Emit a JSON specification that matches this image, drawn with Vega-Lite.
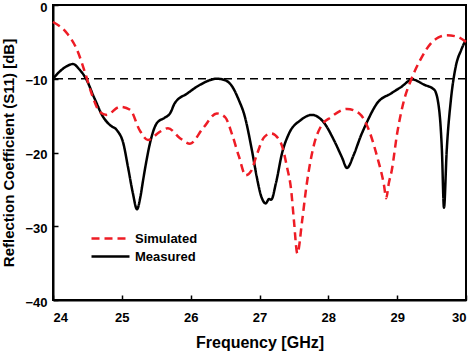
{
  "$schema": "https://vega.github.io/schema/vega-lite/v6.json",
  "width": 413,
  "height": 295,
  "autosize": "none",
  "padding": {"left": 53, "top": 5, "right": 8, "bottom": 52},
  "config": {
    "font": "Liberation Sans",
    "view": {"stroke": "black", "strokeWidth": 2},
    "axis": {
      "grid": false,
      "domainColor": "black",
      "domainWidth": 2,
      "tickColor": "black",
      "tickWidth": 1.5,
      "labelFont": "Liberation Sans",
      "labelFontWeight": "bold",
      "labelFontSize": 13,
      "labelColor": "black",
      "titleFont": "Liberation Sans",
      "titleFontWeight": "bold",
      "titleFontSize": 15,
      "titleColor": "black"
    }
  },
  "datasets": {
    "threshold": [{"level": -10}],
    "curves": [
      {"f": 24.0, "s": -10.0, "series": "Measured"},
      {"f": 24.1, "s": -9.0, "series": "Measured"},
      {"f": 24.2, "s": -8.3, "series": "Measured"},
      {"f": 24.29, "s": -8.0, "series": "Measured"},
      {"f": 24.38, "s": -8.7, "series": "Measured"},
      {"f": 24.48, "s": -10.0, "series": "Measured"},
      {"f": 24.6, "s": -12.6, "series": "Measured"},
      {"f": 24.73, "s": -15.2, "series": "Measured"},
      {"f": 24.83, "s": -16.3, "series": "Measured"},
      {"f": 24.93, "s": -17.0, "series": "Measured"},
      {"f": 25.02, "s": -18.7, "series": "Measured"},
      {"f": 25.09, "s": -22.0, "series": "Measured"},
      {"f": 25.16, "s": -25.5, "series": "Measured"},
      {"f": 25.22, "s": -27.7, "series": "Measured"},
      {"f": 25.27, "s": -26.0, "series": "Measured"},
      {"f": 25.31, "s": -23.7, "series": "Measured"},
      {"f": 25.36, "s": -21.0, "series": "Measured"},
      {"f": 25.41, "s": -18.7, "series": "Measured"},
      {"f": 25.51, "s": -16.0, "series": "Measured"},
      {"f": 25.62, "s": -15.3, "series": "Measured"},
      {"f": 25.7, "s": -14.7, "series": "Measured"},
      {"f": 25.77, "s": -13.3, "series": "Measured"},
      {"f": 25.95, "s": -12.0, "series": "Measured"},
      {"f": 26.14, "s": -10.8, "series": "Measured"},
      {"f": 26.38, "s": -10.0, "series": "Measured"},
      {"f": 26.5, "s": -10.2, "series": "Measured"},
      {"f": 26.6, "s": -11.0, "series": "Measured"},
      {"f": 26.7, "s": -12.9, "series": "Measured"},
      {"f": 26.78, "s": -14.9, "series": "Measured"},
      {"f": 26.89, "s": -19.7, "series": "Measured"},
      {"f": 26.96, "s": -23.3, "series": "Measured"},
      {"f": 27.02, "s": -25.8, "series": "Measured"},
      {"f": 27.09, "s": -26.9, "series": "Measured"},
      {"f": 27.14, "s": -26.3, "series": "Measured"},
      {"f": 27.17, "s": -26.4, "series": "Measured"},
      {"f": 27.24, "s": -24.1, "series": "Measured"},
      {"f": 27.33, "s": -20.0, "series": "Measured"},
      {"f": 27.43, "s": -17.4, "series": "Measured"},
      {"f": 27.6, "s": -15.6, "series": "Measured"},
      {"f": 27.76, "s": -14.9, "series": "Measured"},
      {"f": 27.94, "s": -16.0, "series": "Measured"},
      {"f": 28.08, "s": -18.3, "series": "Measured"},
      {"f": 28.2, "s": -20.7, "series": "Measured"},
      {"f": 28.27, "s": -22.1, "series": "Measured"},
      {"f": 28.37, "s": -20.3, "series": "Measured"},
      {"f": 28.47, "s": -17.8, "series": "Measured"},
      {"f": 28.56, "s": -15.9, "series": "Measured"},
      {"f": 28.71, "s": -13.3, "series": "Measured"},
      {"f": 28.91, "s": -12.0, "series": "Measured"},
      {"f": 29.06, "s": -11.1, "series": "Measured"},
      {"f": 29.22, "s": -10.1, "series": "Measured"},
      {"f": 29.39, "s": -10.8, "series": "Measured"},
      {"f": 29.54, "s": -11.5, "series": "Measured"},
      {"f": 29.61, "s": -14.2, "series": "Measured"},
      {"f": 29.65, "s": -19.7, "series": "Measured"},
      {"f": 29.68, "s": -27.5, "series": "Measured"},
      {"f": 29.72, "s": -19.7, "series": "Measured"},
      {"f": 29.78, "s": -12.9, "series": "Measured"},
      {"f": 29.85, "s": -8.4, "series": "Measured"},
      {"f": 29.93, "s": -6.1, "series": "Measured"},
      {"f": 30.0, "s": -4.7, "series": "Measured"},
      {"f": 24.0, "s": -2.3, "series": "Simulated"},
      {"f": 24.2, "s": -3.8, "series": "Simulated"},
      {"f": 24.35, "s": -6.1, "series": "Simulated"},
      {"f": 24.47, "s": -9.3, "series": "Simulated"},
      {"f": 24.56, "s": -12.0, "series": "Simulated"},
      {"f": 24.68, "s": -14.5, "series": "Simulated"},
      {"f": 24.78, "s": -14.9, "series": "Simulated"},
      {"f": 24.97, "s": -13.8, "series": "Simulated"},
      {"f": 25.12, "s": -14.2, "series": "Simulated"},
      {"f": 25.26, "s": -17.0, "series": "Simulated"},
      {"f": 25.38, "s": -18.3, "series": "Simulated"},
      {"f": 25.55, "s": -17.2, "series": "Simulated"},
      {"f": 25.67, "s": -16.7, "series": "Simulated"},
      {"f": 25.85, "s": -18.1, "series": "Simulated"},
      {"f": 25.99, "s": -18.8, "series": "Simulated"},
      {"f": 26.18, "s": -16.7, "series": "Simulated"},
      {"f": 26.38, "s": -14.7, "series": "Simulated"},
      {"f": 26.5, "s": -15.2, "series": "Simulated"},
      {"f": 26.6, "s": -17.5, "series": "Simulated"},
      {"f": 26.7, "s": -20.5, "series": "Simulated"},
      {"f": 26.8, "s": -23.1, "series": "Simulated"},
      {"f": 26.88, "s": -22.5, "series": "Simulated"},
      {"f": 26.95, "s": -20.6, "series": "Simulated"},
      {"f": 27.07, "s": -17.9, "series": "Simulated"},
      {"f": 27.17, "s": -17.4, "series": "Simulated"},
      {"f": 27.31, "s": -18.7, "series": "Simulated"},
      {"f": 27.4, "s": -22.0, "series": "Simulated"},
      {"f": 27.46, "s": -25.1, "series": "Simulated"},
      {"f": 27.5, "s": -29.2, "series": "Simulated"},
      {"f": 27.55, "s": -33.7, "series": "Simulated"},
      {"f": 27.62, "s": -29.2, "series": "Simulated"},
      {"f": 27.68, "s": -24.7, "series": "Simulated"},
      {"f": 27.79, "s": -19.0, "series": "Simulated"},
      {"f": 27.89, "s": -16.5, "series": "Simulated"},
      {"f": 28.04, "s": -15.2, "series": "Simulated"},
      {"f": 28.27, "s": -14.1, "series": "Simulated"},
      {"f": 28.45, "s": -14.7, "series": "Simulated"},
      {"f": 28.56, "s": -16.3, "series": "Simulated"},
      {"f": 28.71, "s": -20.6, "series": "Simulated"},
      {"f": 28.81, "s": -24.5, "series": "Simulated"},
      {"f": 28.84, "s": -26.2, "series": "Simulated"},
      {"f": 28.88, "s": -24.1, "series": "Simulated"},
      {"f": 28.92, "s": -22.5, "series": "Simulated"},
      {"f": 29.0, "s": -17.4, "series": "Simulated"},
      {"f": 29.1, "s": -12.9, "series": "Simulated"},
      {"f": 29.2, "s": -10.2, "series": "Simulated"},
      {"f": 29.35, "s": -7.2, "series": "Simulated"},
      {"f": 29.49, "s": -5.2, "series": "Simulated"},
      {"f": 29.6, "s": -4.4, "series": "Simulated"},
      {"f": 29.72, "s": -4.1, "series": "Simulated"},
      {"f": 29.87, "s": -4.3, "series": "Simulated"},
      {"f": 30.0, "s": -5.0, "series": "Simulated"}
    ]
  },
  "layer": [
    {
      "data": {"name": "threshold"},
      "mark": {"type": "rule", "color": "black", "strokeWidth": 1.5, "strokeDash": [8, 5]},
      "encoding": {"y": {"field": "level", "type": "quantitative"}}
    },
    {
      "data": {"name": "curves"},
      "mark": {"type": "line", "strokeWidth": 2.5, "interpolate": "monotone"},
      "encoding": {
        "x": {
          "field": "f", "type": "quantitative",
          "scale": {"domain": [24, 30], "nice": false, "zero": false},
          "axis": {"title": "Frequency [GHz]", "titleFontSize": 16, "values": [24, 25, 26, 27, 28, 29, 30], "tickSize": -5, "labelPadding": 16, "titlePadding": 10, "format": "d"}
        },
        "y": {
          "field": "s", "type": "quantitative",
          "scale": {"domain": [-40, 0], "nice": false},
          "axis": {"title": "Reflection Coefficient (S11) [dB]", "values": [-40, -30, -20, -10, 0], "tickSize": -5, "labelPadding": 11, "labelOffset": 2, "titlePadding": 8, "format": "d"}
        },
        "color": {
          "field": "series", "type": "nominal",
          "scale": {"domain": ["Simulated", "Measured"], "range": ["#ee1c25", "black"]},
          "legend": {
            "title": null, "orient": "none", "legendX": 51, "legendY": 227,
            "symbolType": "M-3.8,0H3.8", "symbolSize": 100, "symbolStrokeWidth": 2.5,
            "labelFont": "Liberation Sans", "labelFontWeight": "bold", "labelFontSize": 13, "labelColor": "black",
            "labelOffset": 18, "rowPadding": 4, "padding": 0
          }
        },
        "strokeDash": {
          "field": "series", "type": "nominal",
          "scale": {"domain": ["Simulated", "Measured"], "range": [[8, 5], [1, 0]]},
          "legend": {
            "title": null, "orient": "none", "legendX": 51, "legendY": 227,
            "symbolType": "M-3.8,0H3.8", "symbolSize": 100, "symbolStrokeWidth": 2.5,
            "labelFont": "Liberation Sans", "labelFontWeight": "bold", "labelFontSize": 13, "labelColor": "black",
            "labelOffset": 18, "rowPadding": 4, "padding": 0
          }
        }
      }
    }
  ]
}
